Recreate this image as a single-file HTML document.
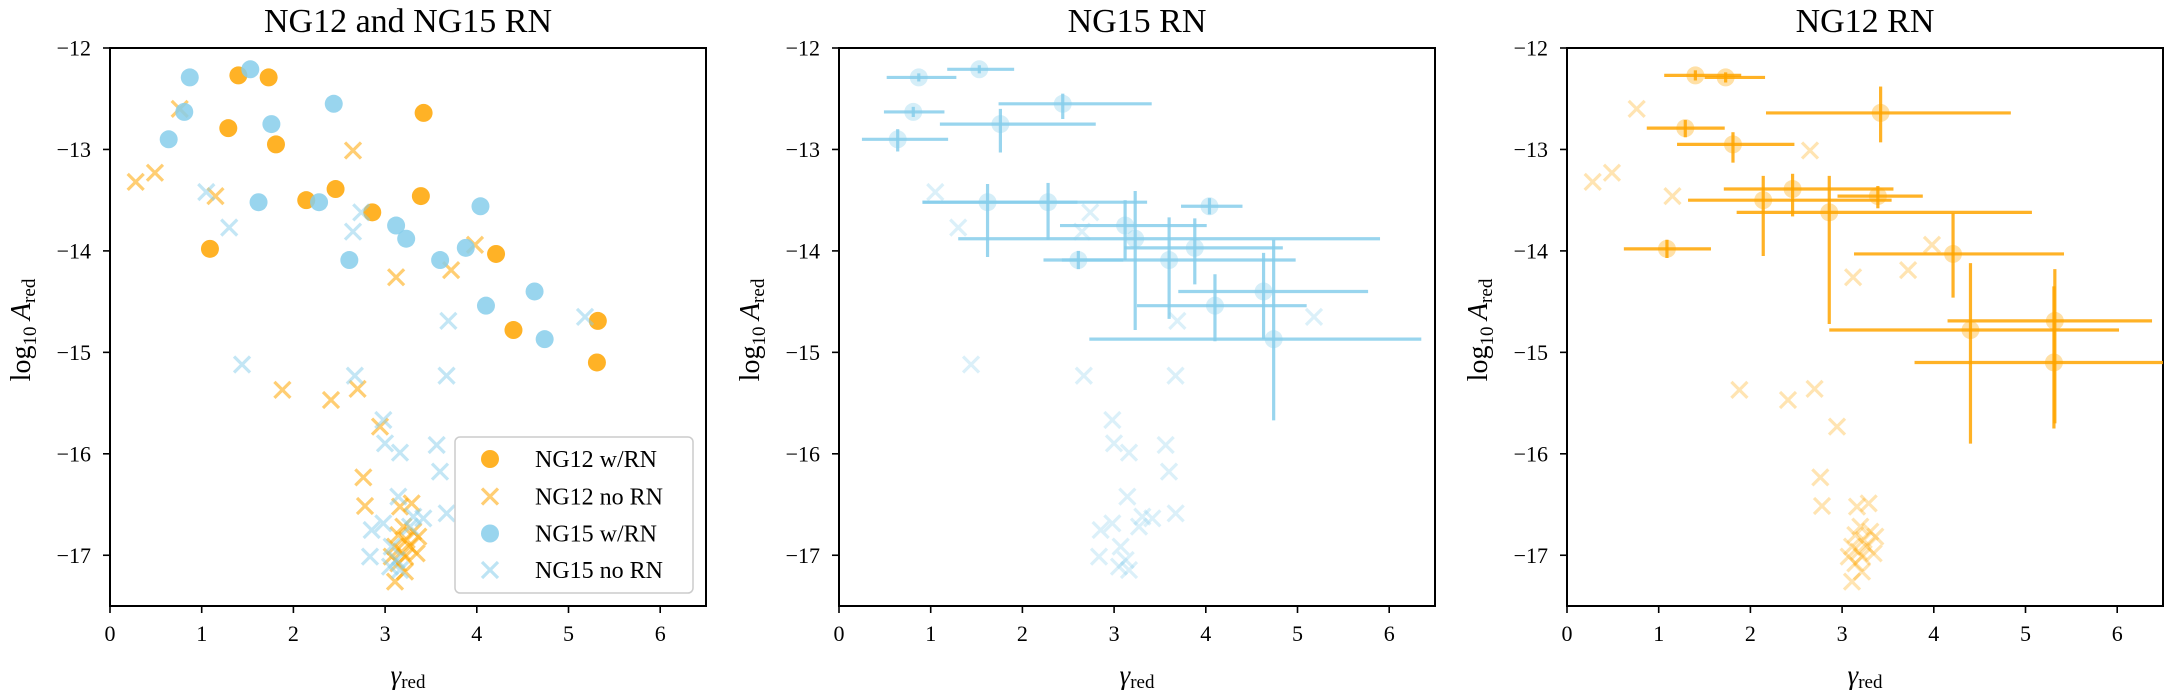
<!DOCTYPE html>
<html><head><meta charset="utf-8">
<style>
html,body{margin:0;padding:0;background:#fff;}
svg{display:block;}
text{font-family:"Liberation Serif","DejaVu Serif",serif;fill:#000;}
</style></head>
<body>
<svg id="s" width="2170" height="691" viewBox="0 0 2170 691" xmlns="http://www.w3.org/2000/svg"></svg>
<script>
const NS="http://www.w3.org/2000/svg";
const svg=document.getElementById('s');
function el(t,a,txt,parent){const e=document.createElementNS(NS,t);for(const k in a)e.setAttribute(k,a[k]);if(txt!==undefined)e.textContent=txt;(parent||svg).appendChild(e);return e;}
const P=[110,839,1567], W=596, TOP=48, BOT=606;
const X=(p,x)=>P[p]+x*91.7, Y=y=>48+(-12-y)*101.45;
const z4=(zx,zy)=>[(330+zx/3-110)/91.7, -12-(400+zy/3-48)/101.45];
const OR="#FFA500", BL="#87CEEB";

const o12=[[1.40,-12.27],[1.73,-12.29],[1.29,-12.79],[1.81,-12.95],[3.42,-12.64],[1.09,-13.98],[2.14,-13.50],[2.46,-13.39],[2.86,-13.62],[3.39,-13.46],[4.21,-14.03],[4.40,-14.78],[5.32,-14.69],[5.31,-15.10]];
const o12e=[[1.06,1.9,-12.22,-12.32],[1.5,2.16,-12.24,-12.34],[0.87,1.72,-12.71,-12.88],[1.20,2.48,-12.83,-13.13],[2.17,4.84,-12.38,-12.93],[0.62,1.57,-13.89,-14.07],[1.32,3.54,-13.26,-14.05],[1.71,3.56,-13.24,-13.66],[1.85,5.07,-13.26,-14.72],[2.95,3.88,-13.36,-13.58],[3.13,5.42,-13.63,-14.46],[2.86,6.02,-14.12,-15.9],[4.15,6.38,-14.18,-15.7],[3.79,6.5,-14.35,-15.75]];
const b15=[[0.87,-12.29],[1.53,-12.21],[0.81,-12.63],[0.64,-12.90],[2.44,-12.55],[1.76,-12.75],[1.62,-13.52],[2.28,-13.52],[2.61,-14.09],[3.12,-13.75],[3.23,-13.88],[3.60,-14.09],[3.88,-13.97],[4.04,-13.56],[4.10,-14.54],[4.63,-14.40],[4.74,-14.87]];
const b15e=[[0.52,1.28,-12.25,-12.33],[1.18,1.91,-12.17,-12.25],[0.49,1.15,-12.58,-12.68],[0.25,1.19,-12.80,-13.02],[1.74,3.41,-12.45,-12.7],[1.10,2.8,-12.60,-13.03],[0.91,2.6,-13.34,-14.06],[0.91,3.36,-13.33,-13.89],[2.43,3.10,-14.0,-14.18],[2.41,4.01,-13.50,-14.09],[1.30,5.90,-13.41,-14.78],[2.23,4.98,-13.67,-14.67],[3.11,4.84,-13.68,-14.33],[3.73,4.40,-13.48,-13.64],[3.25,5.10,-14.23,-14.89],[3.70,5.77,-14.02,-14.87],[2.73,6.35,-13.89,-15.67]];
let o12x=[[0.28,-13.32],[0.49,-13.23],[0.76,-12.6],[1.15,-13.46],[2.65,-13.01],[3.12,-14.26],[3.72,-14.19],[3.98,-13.94],[1.88,-15.37],[2.41,-15.47],[2.70,-15.36]];
[[150,80],[100,232],[105,318],[245,310],[210,320],[220,380],[250,395],[205,405],[265,410],[230,420],[195,440],[240,440],[215,455],[260,460],[185,470],[225,470],[205,490],[225,515],[195,545]].forEach(p=>o12x.push(z4(p[0],p[1])));
let b15x=[[1.05,-13.42],[1.30,-13.77],[2.65,-13.81],[2.74,-13.62],[1.44,-15.12],[2.67,-15.23],[3.67,-15.23],[3.69,-14.69],[5.18,-14.65]];
[[160,60],[165,130],[210,158],[320,135],[330,215],[205,290],[350,340],[125,390],[160,370],[280,355],[120,470],[250,350],[240,380],[185,440],[200,480],[210,510],[180,500]].forEach(p=>b15x.push(z4(p[0],p[1])));

function cross(x,y,c,op,s){s=s||8;el('path',{d:`M${x-s} ${y-s}L${x+s} ${y+s}M${x-s} ${y+s}L${x+s} ${y-s}`,stroke:c,'stroke-width':3.2,'stroke-opacity':op,fill:'none'});}
function circ(x,y,c,op){el('circle',{cx:x,cy:y,r:9,fill:c,'fill-opacity':op});}

function axes(p,title){
  const x0=P[p];
  el('rect',{x:x0,y:TOP,width:W,height:BOT-TOP,fill:'none',stroke:'#000','stroke-width':2});
  for(let i=0;i<=6;i++){const x=X(p,i);el('line',{x1:x,y1:BOT,x2:x,y2:BOT+7,stroke:'#000','stroke-width':1.6});
    el('text',{x:x,y:641,'font-size':22,'text-anchor':'middle'},String(i));}
  for(let v=-12;v>=-17;v--){const y=Y(v);el('line',{x1:x0-7,y1:y,x2:x0,y2:y,stroke:'#000','stroke-width':1.6});
    el('text',{x:x0-19,y:y+7.5,'font-size':22,'text-anchor':'end'},'\u2212'+(-v));}
  el('text',{x:x0+W/2,y:32,'font-size':34,'text-anchor':'middle'},title);
  const t=el('text',{x:x0+W/2,y:684,'font-size':27,'text-anchor':'middle'});
  el('tspan',{'font-style':'italic'},'\u03b3',t);el('tspan',{'font-size':19,dy:4},'red',t);
  const yl=el('text',{transform:`translate(${x0-80},330) rotate(-90)`,'font-size':28,'text-anchor':'middle'});
  el('tspan',{},'log',yl);el('tspan',{'font-size':19,dy:6},'10',yl);el('tspan',{dy:-6,'font-style':'italic'},' A',yl);el('tspan',{'font-size':19,dy:5},'red',yl);
}
// Panel 1
axes(0,'NG12 and NG15 RN');
o12.forEach(p=>circ(X(0,p[0]),Y(p[1]),OR,0.85));
o12x.forEach(p=>cross(X(0,p[0]),Y(p[1]),OR,0.55));
b15.forEach(p=>circ(X(0,p[0]),Y(p[1]),BL,0.85));
b15x.forEach(p=>cross(X(0,p[0]),Y(p[1]),BL,0.5));
// legend
el('rect',{x:455,y:437,width:238,height:156,rx:5,fill:'#fff','fill-opacity':0.85,stroke:'#ccc','stroke-width':1.5});
[[459,'NG12 w/RN',OR,'c'],[496.5,'NG12 no RN',OR,'x'],[533.5,'NG15 w/RN',BL,'c'],[570,'NG15 no RN',BL,'x']].forEach(r=>{
  if(r[3]=='c')circ(490,r[0],r[2],0.85);else cross(490,r[0],r[2],0.55);
  el('text',{x:535,y:r[0]+8,'font-size':24},r[1]);});
// Panel 2
axes(1,'NG15 RN');
b15x.forEach(p=>cross(X(1,p[0]),Y(p[1]),BL,0.3));
b15e.forEach((e,i)=>{const p=b15[i];
  el('line',{x1:X(1,e[0]),y1:Y(p[1]),x2:X(1,Math.min(e[1],6.5)),y2:Y(p[1]),stroke:BL,'stroke-width':3.2,'stroke-opacity':0.85});
  el('line',{x1:X(1,p[0]),y1:Y(e[2]),x2:X(1,p[0]),y2:Y(e[3]),stroke:BL,'stroke-width':3.2,'stroke-opacity':0.85});});
b15.forEach(p=>circ(X(1,p[0]),Y(p[1]),BL,0.35));
// Panel 3
axes(2,'NG12 RN');
o12x.forEach(p=>cross(X(2,p[0]),Y(p[1]),OR,0.3));
o12e.forEach((e,i)=>{const p=o12[i];
  el('line',{x1:X(2,e[0]),y1:Y(p[1]),x2:X(2,Math.min(e[1],6.5)),y2:Y(p[1]),stroke:OR,'stroke-width':3.2,'stroke-opacity':0.85});
  el('line',{x1:X(2,p[0]),y1:Y(e[2]),x2:X(2,p[0]),y2:Y(e[3]),stroke:OR,'stroke-width':3.2,'stroke-opacity':0.85});});
o12.forEach(p=>circ(X(2,p[0]),Y(p[1]),OR,0.35));
</script>
</body></html>
